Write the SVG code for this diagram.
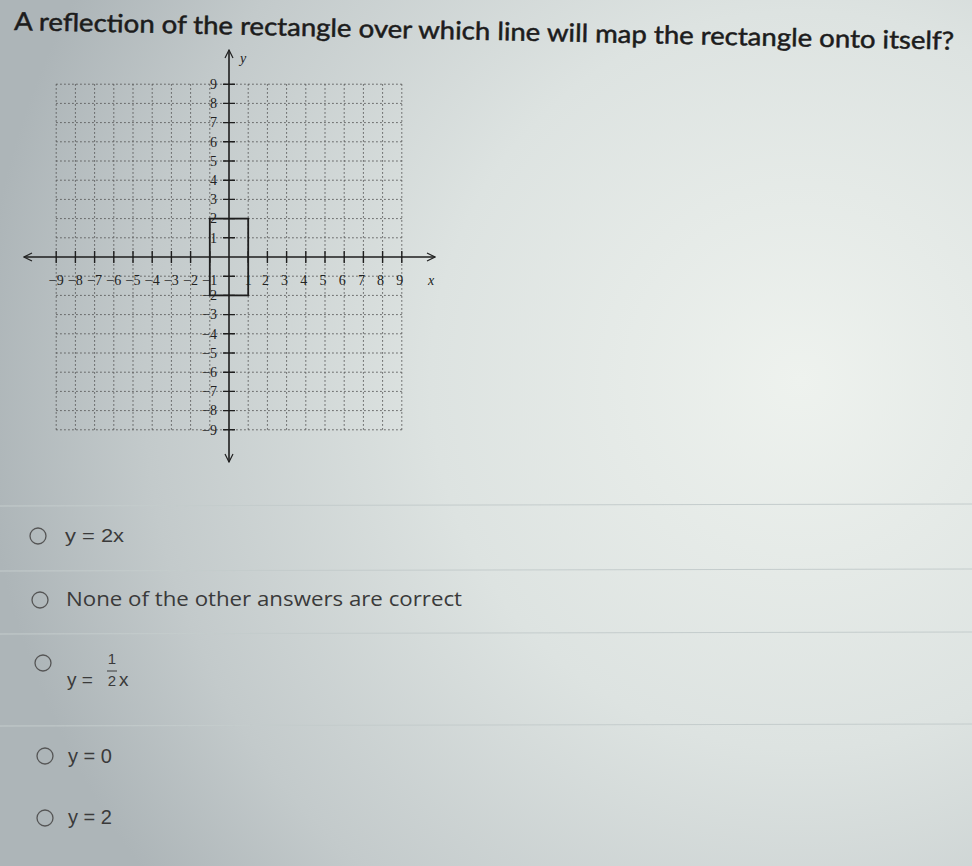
<svg xmlns="http://www.w3.org/2000/svg" width="972" height="866" viewBox="0 0 972 866">
<defs>
<radialGradient id="bg" cx="800" cy="380" r="820" gradientUnits="userSpaceOnUse">
<stop offset="0" stop-color="#eef2ee"/>
<stop offset="0.45" stop-color="#dde3e1"/>
<stop offset="0.8" stop-color="#c3cacb"/>
<stop offset="1" stop-color="#adb5b8"/>
</radialGradient>
<marker id="arr" viewBox="0 0 10 10" refX="9" refY="5" markerWidth="10" markerHeight="10" markerUnits="userSpaceOnUse" orient="auto">
<path d="M1,1 L9,5 L1,9" fill="none" stroke="#222" stroke-width="1.2"/>
</marker>
<style>
.grid{stroke:#555;stroke-width:1;stroke-dasharray:1.5 2.5;fill:none}
.axis{stroke:#1e1e1e;stroke-width:1.6;fill:none}
.tick{stroke:#1e1e1e;stroke-width:1.4}
.lbl{font-family:"Liberation Serif",serif;font-size:14px;fill:#222}
.opt{font-family:"Liberation Sans",sans-serif;fill:#3a3a3a}
.radio{fill:none;stroke:#555;stroke-width:1.3}
.sep{stroke:#c4cccc;stroke-width:1}
</style>
</defs>
<rect width="972" height="866" fill="url(#bg)"/>
<g id="title">
<text x="14" y="30" transform="rotate(1.2 14 30)" font-family="Lato,'Liberation Sans',sans-serif" font-size="25" font-weight="normal" stroke="#1c1c1c" stroke-width="0.5" fill="#1c1c1c" textLength="940" lengthAdjust="spacingAndGlyphs">A reflection of the rectangle over which line will map the rectangle onto itself?</text>
</g>
<g id="grid">
<path class="grid" d="M56.2,84.2V429.8M75.4,84.2V429.8M94.6,84.2V429.8M113.8,84.2V429.8M133,84.2V429.8M152.2,84.2V429.8M171.4,84.2V429.8M190.6,84.2V429.8M209.8,84.2V429.8M248.2,84.2V429.8M267.4,84.2V429.8M286.6,84.2V429.8M305.8,84.2V429.8M325,84.2V429.8M344.2,84.2V429.8M363.4,84.2V429.8M382.6,84.2V429.8M401.8,84.2V429.8"/>
<path class="grid" d="M56.2,84.2H401.8M56.2,103.4H401.8M56.2,122.6H401.8M56.2,141.8H401.8M56.2,161H401.8M56.2,180.2H401.8M56.2,199.4H401.8M56.2,218.6H401.8M56.2,237.8H401.8M56.2,276.2H401.8M56.2,295.4H401.8M56.2,314.6H401.8M56.2,333.8H401.8M56.2,353H401.8M56.2,372.2H401.8M56.2,391.4H401.8M56.2,410.6H401.8M56.2,429.8H401.8"/>
</g>
<g id="axes">
<line class="axis" x1="229" y1="257" x2="24" y2="257" marker-end="url(#arr)"/>
<line class="axis" x1="229" y1="257" x2="435" y2="257" marker-end="url(#arr)"/>
<line class="axis" x1="229" y1="257" x2="229" y2="50" marker-end="url(#arr)"/>
<line class="axis" x1="229" y1="257" x2="229" y2="462" marker-end="url(#arr)"/>
<path class="tick" d="M56.2,251V263M75.4,251V263M94.6,251V263M113.8,251V263M133,251V263M152.2,251V263M171.4,251V263M190.6,251V263M209.8,251V263M248.2,251V263M267.4,251V263M286.6,251V263M305.8,251V263M325,251V263M344.2,251V263M363.4,251V263M382.6,251V263M401.8,251V263"/>
<path class="tick" d="M223,84.2H235M223,103.4H235M223,122.6H235M223,141.8H235M223,161H235M223,180.2H235M223,199.4H235M223,218.6H235M223,237.8H235M223,276.2H235M223,295.4H235M223,314.6H235M223,333.8H235M223,353H235M223,372.2H235M223,391.4H235M223,410.6H235M223,429.8H235"/>
<text class="lbl" x="240" y="63" font-style="italic">y</text>
<text class="lbl" x="428" y="285" font-style="italic">x</text>
</g>
<g id="xlabels" class="lbl" text-anchor="middle">
<text x="56.2" y="285">−9</text><text x="75.4" y="285">−8</text><text x="94.6" y="285">−7</text><text x="113.8" y="285">−6</text><text x="133" y="285">−5</text><text x="152.2" y="285">−4</text><text x="171.4" y="285">−3</text><text x="190.6" y="285">−2</text><text x="209.8" y="285">−1</text>
<text x="248.2" y="285">1</text><text x="265.4" y="285">2</text><text x="284.6" y="285">3</text><text x="303.8" y="285">4</text><text x="323" y="285">5</text><text x="342.2" y="285">6</text><text x="361.4" y="285">7</text><text x="380.6" y="285">8</text><text x="399.8" y="285">9</text>
</g>
<g id="ylabels" class="lbl" text-anchor="end">
<text x="217" y="89">9</text><text x="217" y="108.2">8</text><text x="217" y="127.4">7</text><text x="217" y="146.6">6</text><text x="217" y="165.8">5</text><text x="217" y="185">4</text><text x="217" y="204.2">3</text><text x="217" y="223.4">2</text><text x="217" y="242.6">1</text>
<text x="217" y="300.2">−2</text><text x="217" y="319.4">−3</text><text x="217" y="338.6">−4</text><text x="217" y="357.8">−5</text><text x="217" y="377">−6</text><text x="217" y="396.2">−7</text><text x="217" y="415.4">−8</text><text x="217" y="434.6">−9</text>
</g>
<g id="rectangle">
<rect x="209.8" y="218.6" width="38.4" height="76.8" fill="none" stroke="#1e1e1e" stroke-width="1.8"/>
</g>
<g id="separators">
<line class="sep" x1="0" y1="506" x2="972" y2="504"/>
<line class="sep" x1="0" y1="571" x2="972" y2="569"/>
<line class="sep" x1="0" y1="634" x2="972" y2="632"/>
<line class="sep" x1="0" y1="726" x2="972" y2="724"/>
</g>
<g id="opt1">
<circle class="radio" cx="38" cy="536" r="8"/>
<text class="opt" x="65" y="542" font-size="18" textLength="59" lengthAdjust="spacingAndGlyphs">y = 2x</text>
</g>
<g id="opt2">
<circle class="radio" cx="40" cy="600" r="8"/>
<text x="66" y="606" font-family="'Open Sans','Liberation Sans',sans-serif" fill="#3a3a3a" font-size="20.5" textLength="396" lengthAdjust="spacingAndGlyphs">None of the other answers are correct</text>
</g>
<g id="opt3">
<circle class="radio" cx="43" cy="663" r="8"/>
<text class="opt" x="67" y="686" font-size="19">y =</text>
<text class="opt" x="112" y="664" font-size="15" text-anchor="middle">1</text>
<line x1="107" y1="671" x2="117" y2="671" stroke="#3a3a3a" stroke-width="1"/>
<text class="opt" x="112" y="686" font-size="15" text-anchor="middle">2</text>
<text class="opt" x="119" y="686" font-size="19">x</text>
</g>
<g id="opt4">
<circle class="radio" cx="45" cy="756" r="8"/>
<text class="opt" x="68" y="763" font-size="20">y = 0</text>
</g>
<g id="opt5">
<circle class="radio" cx="45" cy="818" r="8"/>
<text class="opt" x="68" y="824" font-size="20">y = 2</text>
</g>
</svg>
